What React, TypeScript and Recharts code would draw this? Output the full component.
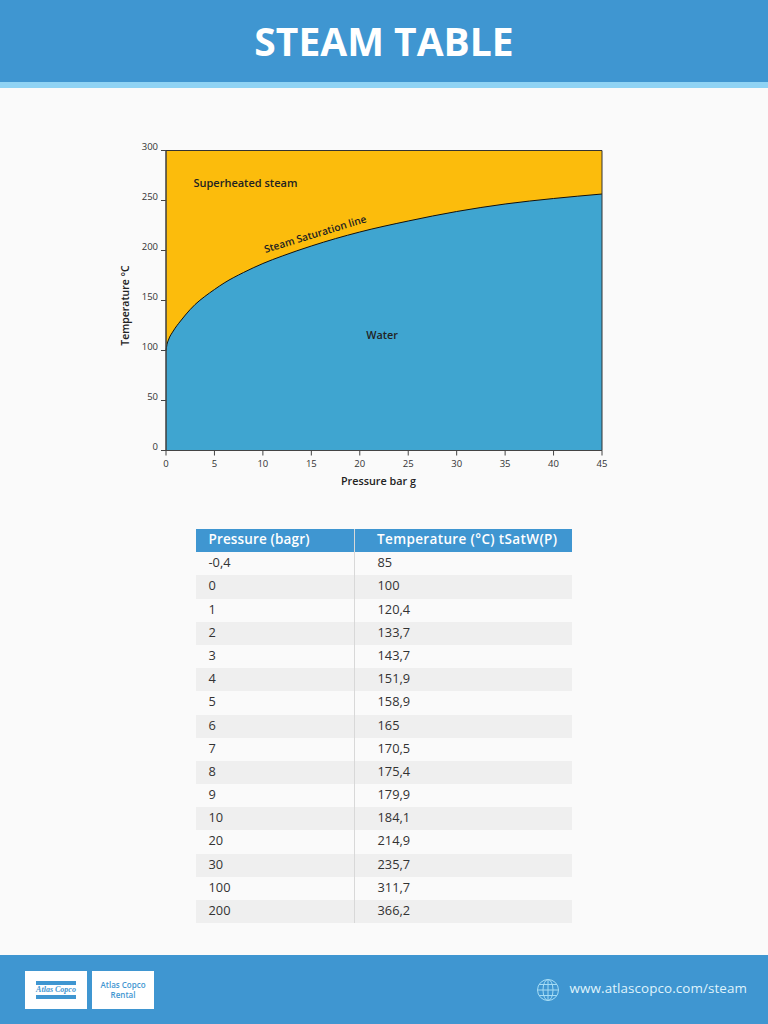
import { Area, AreaChart, Label, ReferenceArea, ReferenceDot, XAxis, YAxis } from "recharts";

const pressure = [0, 0.1, 0.25, 0.75, 1.5, 2, 3, 4, 5, 6, 8, 10, 12, 15, 20, 25, 30, 35, 40, 45];
const saturation = [100, 106, 110.5, 119.5, 129.5, 135.5, 146, 154, 161, 167.5, 178, 187, 194.5, 204.5, 218.5, 229.5, 239, 246.5, 252, 256.5];
const ceiling = pressure.map(() => 300);

const xTicks = [0, 5, 10, 15, 20, 25, 30, 35, 40, 45];
const yTicks = [0, 50, 100, 150, 200, 250, 300];

const tablePressure = ["-0,4", "0", "1", "2", "3", "4", "5", "6", "7", "8", "9", "10", "20", "30", "100", "200"];
const tableTemperature = ["85", "100", "120,4", "133,7", "143,7", "151,9", "158,9", "165", "170,5", "175,4", "179,9", "184,1", "214,9", "235,7", "311,7", "366,2"];

const chartData = pressure.map((p, i) => ({ p, sat: saturation[i], top: ceiling[i] }));

const FONT = "'Open Sans', sans-serif";
const BLUE = "#3f96d1";
const INK = "#222222";

function Note({ x, y, text, angle = 0, size = 11 }: { x: number; y: number; text: string; angle?: number; size?: number }) {
  return (
    <ReferenceDot x={x} y={y} r={0} fill="none" stroke="none" ifOverflow="visible">
      <Label value={text} position="center" angle={angle} fontSize={size} fontWeight={600} fill={INK} fontFamily={FONT} />
    </ReferenceDot>
  );
}

function SteamChart() {
  return (
    <AreaChart
      width={530}
      height={370}
      data={chartData}
      margin={{ top: 20.5, right: 28, bottom: 0, left: 0 }}
      style={{ position: "absolute", left: 100, top: 130 }}
    >
      <XAxis
        dataKey="p"
        type="number"
        domain={[0, 45]}
        ticks={xTicks}
        height={49.5}
        tickSize={5}
        tickMargin={5}
        stroke="#444"
        tick={{ fontSize: 9.5, fill: "#333", fontFamily: FONT }}
      >
        <Label value="Pressure bar g" position="insideBottom" offset={15} dx={-5.5} fontSize={10.8} fontWeight={600} fill={INK} fontFamily={FONT} />
      </XAxis>
      <YAxis
        type="number"
        domain={[0, 300]}
        ticks={yTicks}
        width={66}
        tickSize={5}
        tickMargin={3}
        stroke="#444"
        tick={{ fontSize: 9.5, fill: "#333", fontFamily: FONT, dy: -3.5 }}
      >
        <Label value="Temperature °C" angle={-90} position="insideLeft" offset={25} dy={5} fontSize={10.5} fontWeight={600} fill={INK} fontFamily={FONT} style={{ textAnchor: "middle" }} />
      </YAxis>
      <Area dataKey="top" type="linear" fill="#fcbc0c" fillOpacity={1} stroke="none" dot={false} activeDot={false} isAnimationActive={false} />
      <Area dataKey="sat" type="monotone" fill="#3fa5d0" fillOpacity={1} stroke="#111" strokeWidth={1} dot={false} activeDot={false} isAnimationActive={false} />
      <ReferenceArea x1={0} x2={45} y1={0} y2={300} fill="none" stroke="#333" strokeWidth={1} ifOverflow="visible" />
      <Note x={8.2} y={267.5} text="Superheated steam" />
      <Note x={15.4} y={216.5} text="Steam Saturation line" angle={-17} size={10.2} />
      <Note x={22.3} y={115.5} text="Water" size={10.8} />
    </AreaChart>
  );
}

function SteamTable() {
  const cell: React.CSSProperties = { height: 23.2, padding: 0, lineHeight: "21px" };
  return (
    <div style={{ position: "absolute", left: 196, top: 529, width: 376, fontFamily: FONT, fontSize: 12.8, color: "#333" }}>
      <div style={{ ...cell, display: "flex", background: BLUE, color: "#fff", fontWeight: 600, fontSize: 13.5 }}>
        <div style={{ width: 158, paddingLeft: 12.5, boxSizing: "border-box", letterSpacing: 0.15 }}>Pressure (bagr)</div>
        <div style={{ flex: 1, paddingLeft: 22, borderLeft: "1px solid #d8d8d8", letterSpacing: 0.37 }}>Temperature (°C) tSatW(P)</div>
      </div>
      {tablePressure.map((p, i) => (
        <div key={p} style={{ ...cell, display: "flex", background: i % 2 ? "#efefef" : "#fafafa" }}>
          <div style={{ width: 158, paddingLeft: 12.5, boxSizing: "border-box" }}>{p}</div>
          <div style={{ flex: 1, paddingLeft: 22.5, borderLeft: "1px solid #d8d8d8" }}>{tableTemperature[i]}</div>
        </div>
      ))}
    </div>
  );
}

function Footer() {
  const box: React.CSSProperties = { position: "absolute", top: 971, width: 62, height: 38, background: "#fff" };
  return (
    <>
      <div style={{ position: "absolute", left: 0, top: 955, width: 768, height: 69, background: BLUE }} />
      <div style={{ ...box, left: 25 }}>
        <div style={{ position: "absolute", left: 11, top: 10, width: 40, height: 4, background: BLUE }} />
        <div style={{ position: "absolute", left: 0, width: 62, top: 14, textAlign: "center", fontFamily: "'Liberation Serif', serif", fontStyle: "italic", fontWeight: 700, fontSize: 8, lineHeight: "10px", color: BLUE }}>
          Atlas Copco
        </div>
        <div style={{ position: "absolute", left: 11, top: 24, width: 40, height: 4, background: BLUE }} />
      </div>
      <div style={{ ...box, left: 92, textAlign: "center", fontFamily: FONT, fontWeight: 600, fontSize: 8, lineHeight: "10px", color: BLUE, paddingTop: 9, height: 29 }}>
        Atlas Copco
        <br />
        Rental
      </div>
      <svg width="24" height="24" viewBox="0 0 24 24" style={{ position: "absolute", left: 535.5, top: 977.5 }} fill="none" stroke="#a5dcf5" strokeWidth="1">
        <circle cx="12" cy="12" r="10.5" />
        <ellipse cx="12" cy="12" rx="5" ry="10.5" />
        <path d="M12 1.5V22.5M1.5 12H22.5M3 6.5H21M3 17.5H21" />
      </svg>
      <div style={{ position: "absolute", right: 21, top: 978, lineHeight: "20px", fontFamily: FONT, fontSize: 13.4, color: "#dff3fc", letterSpacing: 0.1 }}>
        www.atlascopco.com/steam
      </div>
    </>
  );
}

export default function App() {
  return (
    <div style={{ position: "absolute", left: 0, top: 0, width: 768, height: 1024, overflow: "hidden", background: "#fafafa" }}>
      <div style={{ position: "absolute", left: 0, top: 0, width: 768, height: 82, background: BLUE, color: "#fff", textAlign: "center", fontFamily: FONT, fontWeight: 700, fontSize: 39, lineHeight: "82px" }}>
        STEAM TABLE
      </div>
      <div style={{ position: "absolute", left: 0, top: 82, width: 768, height: 6, background: "#8fd3f4" }} />
      <SteamChart />
      <SteamTable />
      <Footer />
    </div>
  );
}
